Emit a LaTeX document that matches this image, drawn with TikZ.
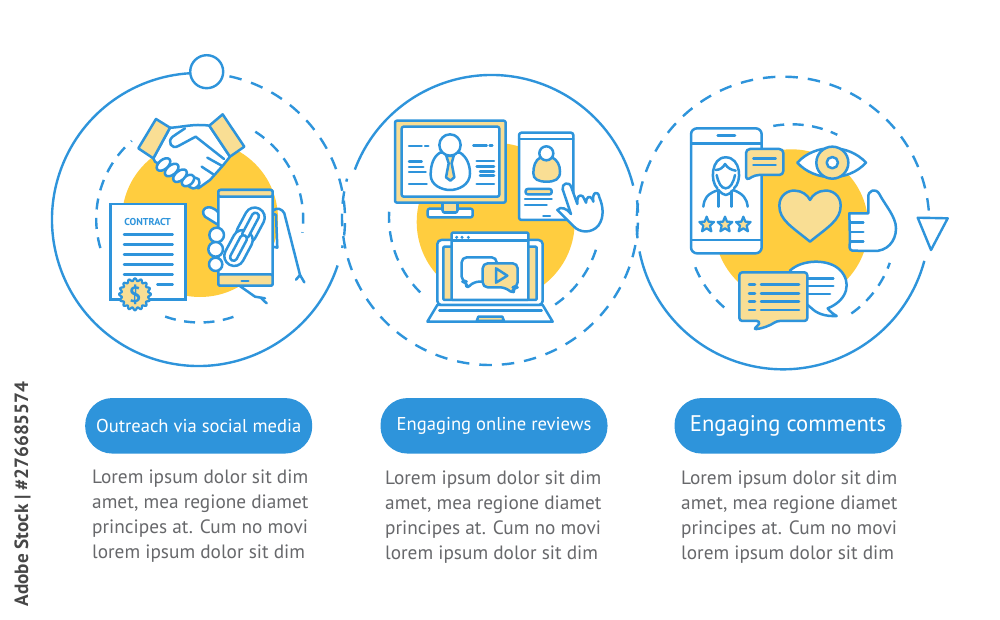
\documentclass[tikz,border=0pt]{standalone}
\usepackage{fontspec}
\setmainfont{PT Sans}
\definecolor{bl}{HTML}{2E94DB}
\definecolor{yl}{HTML}{FFCD3F}
\definecolor{ly}{HTML}{F9DE94}
\definecolor{tg}{HTML}{67686B}
\tikzset{
  ln/.style={draw=bl,line width=2.5pt,line join=round,line cap=round},
  wh/.style={ln,fill=white},
  lt/.style={ln,fill=ly},
  ring/.style={draw=bl,line width=2.4pt},
  dsh/.style={draw=bl,line width=2.4pt,dash pattern=on 12.5pt off 10pt},
  dsi/.style={draw=bl,line width=2.4pt,dash pattern=on 11pt off 8.5pt},
  pill/.style={fill=bl,rounded corners=27pt,minimum width=227pt,minimum height=55.5pt,inner sep=0pt,text=white,font=\fontsize{18.6}{20}\selectfont},
  body/.style={anchor=north west,text=tg,align=left,inner sep=0pt,font=\fontsize{19.3}{25}\selectfont}
}
\newcommand{\carc}[6][dsh]{\draw[#1] ([shift={(#2,#3)}]#5:#4pt) arc[start angle=#5,end angle=#6,radius=#4pt];}
\newcommand{\capsule}[5]{\begin{scope}[shift={(#1,#2)},rotate=#5]\draw[wh,rounded corners=#4pt-0.1pt] (-#3,-#4) rectangle (#3,#4);\end{scope}}
\newcommand{\finger}[5]{\begin{scope}[shift={(#1,#2)},rotate=#5]\draw[wh] (0,0) ellipse[x radius=#3pt,y radius=#4pt];\end{scope}}
\begin{document}
\begin{tikzpicture}[yscale=-1,x=1pt,y=1pt]
\useasboundingbox (0,0) rectangle (1000,620);
\fill[white] (0,0) rectangle (1000,620);
% ---------- yellow discs
\fill[yl] (200,219) circle[radius=78pt];
\fill[yl] (495.7,222) circle[radius=79pt];
\fill[yl] (791.3,226.3) circle[radius=77pt];
% ---------- circle 1
\carc[ring]{198.5}{219.5}{146.5}{18.3}{267}
\carc{198.5}{219.5}{146.5}{-77.8}{11.2}
\carc[dsi]{199.7}{219}{103.5}{163.7}{229}
\carc[dsi]{199.7}{219}{103.5}{-57.5}{7.6}
\carc[dsi]{199.7}{219}{103.5}{71}{114}
\draw[ring,fill=white] (206.7,71.7) circle[radius=16.5pt];
% handshake
\begin{scope}[shift={(130,105)},scale=1/3]
\draw[wh] (120,68) .. controls (150,68) and (190,55) .. (238,62) -- (300,155) -- (280,180) -- (240,225) -- (205,250) -- (190,240) -- (75,170) -- (70,160) -- cycle;
\draw[ln] (165,70) -- (128,95) .. controls (110,110) and (125,135) .. (145,123) -- (197,95) -- (282,162);
\draw[ln] (232,158) -- (275,182);
\draw[ln] (215,185) -- (250,208);
\draw[lt] (78,42) -- (120,68) -- (70,160) -- (25,130) -- cycle;
\draw[lt] (278,28) -- (343,125) -- (300,155) -- (238,62) -- cycle;
\end{scope}
\finger{194}{183}{6}{5}{-40}
\finger{188}{180.5}{7}{4.7}{-40}
\finger{180}{175.7}{8}{4.7}{-40}
\finger{171.7}{170}{8}{4.7}{-40}
\finger{163.5}{164.5}{8}{4.7}{-40}
% contract
\begin{scope}[shift={(100,195)},scale=1/3]
\draw[wh,line cap=butt,line join=miter] (32,27) rectangle (257,313);
\foreach \yy in {118,148,178,208,238} \draw[ln] (72,\yy) -- (218,\yy);
\draw[ln] (172,268) -- (218,268);
\node (contract) at (143,82) {\fontsize{10}{10}\selectfont\bfseries\textcolor{bl}{CONTRACT}};
\begin{scope}[shift={(105,298)}]
\draw[lt,line width=2.2pt] plot[domain=0:360,samples=121,smooth] (\x:{44+4*cos(16*\x)}) -- cycle;
\node (dollar) at (0,0) {\fontsize{22}{22}\selectfont\bfseries\textcolor{bl}{\$}};
\end{scope}
\end{scope}
% phone with chain
\begin{scope}[shift={(195,185)},scale=1/3]
\draw[ln] (233,78) .. controls (245,65) and (262,72) .. (268,85) -- (315,270);
\draw[ln] (303,284) -- (315,270) -- (328,292);
\draw[ln] (133,302) -- (180,335) -- (210,340);
\draw[ln] (197,338) -- (215,355);
\draw[ln] (233,85) -- (243,90) -- (247,188) -- (233,185);
\draw[wh] (70,120) -- (30,95) .. controls (12,75) and (40,50) .. (70,82) -- cycle;
\draw[wh,rounded corners=2pt] (70,15) rectangle (233,302);
\draw[lt,rounded corners=2pt] (70,15) rectangle (233,35);
\draw[lt,rounded corners=2pt] (70,268) rectangle (233,302);
\draw[ln] (140,288) -- (160,288);
\draw[wh] (65,150) circle[radius=22];
\draw[wh] (62,193) circle[radius=22];
\draw[wh] (62,238) circle[radius=20];
\end{scope}
\capsule{250.5}{225.5}{19}{10}{-62}
\capsule{238.5}{248}{19}{10}{-62}
\capsule{250.5}{225.5}{14}{3.5}{-62}
\capsule{238.5}{248}{14}{3.5}{-62}
% ---------- circle 2
\carc[ring]{491.5}{221}{146}{200.6}{346}
\carc{490}{217}{148}{-6.5}{195}
\carc[dsi]{495}{217.3}{106}{183}{132.4}
\carc[dsi]{495}{217.3}{106}{55.4}{14}
\begin{scope}[shift={(340,60)},scale=1/3]
% monitor
\draw[lt] (308,425) rectangle (352,458);
\draw[wh,rounded corners=2pt] (263,446) -- (308,446) -- (308,458) -- (352,458) -- (352,446) -- (398,446) -- (398,472) -- (263,472) -- cycle;
\draw[lt,rounded corners=2pt] (165,182) rectangle (497,428);
\draw[wh,rounded corners=2pt] (185,200) rectangle (478,410);
\draw[ln] (207,258) -- (245,258) (255,258) -- (265,258) (207,305) -- (245,305) (207,321) -- (250,321) (207,336) -- (257,336) (207,372) -- (260,372);
\draw[ln] (400,256) -- (440,256) (449,256) -- (457,256) (410,303) -- (462,303) (410,320) -- (462,320) (420,335) -- (462,335) (420,347) -- (462,347) (410,372) -- (462,372);
\draw[wh] (300,278) .. controls (280,290) and (272,315) .. (272,345) .. controls (272,375) and (305,390) .. (330,390) .. controls (355,390) and (390,375) .. (390,340) .. controls (390,315) and (380,290) .. (360,278) -- cycle;
\draw[lt] (319,288) -- (341,288) -- (335,310) -- (343,352) -- (331,362) -- (318,352) -- (326,310) -- cycle;
\draw[wh] (330,255) circle[radius=32];
% tablet
\draw[wh,rounded corners=2.5pt] (537,218) rectangle (700,480);
\draw[ln] (537,237) -- (700,237);
\draw[ln] (610,468) -- (630,468);
\draw[lt] (602,292) .. controls (585,300) and (580,320) .. (580,340) .. controls (580,358) and (595,365) .. (620,365) .. controls (645,365) and (660,358) .. (660,335) .. controls (660,315) and (652,300) .. (636,292) -- cycle;
\draw[wh] (619,280) circle[radius=21];
\draw[lt,rounded corners=2pt] (557,387) rectangle (635,403);
\draw[ln] (555,417) -- (635,417) (555,435) -- (620,435);
% hand
\draw[wh] (652,450) .. controls (662,438) and (680,445) .. (693,462) -- (668,388) .. controls (664,370) and (688,362) .. (694,382) -- (712,432) -- (712,420) .. controls (712,402) and (730,402) .. (733,418) -- (738,428) .. controls (738,410) and (750,405) .. (757,418) -- (760,425) .. controls (755,395) and (775,390) .. (778,412) .. controls (788,435) and (795,470) .. (775,497) .. controls (755,520) and (720,520) .. (700,498) -- cycle;
% laptop
\draw[wh] (292,735) -- (262,785) -- (638,785) -- (608,735) -- cycle;
\draw[wh,rounded corners=4pt] (292,735) -- (292,540) -- (608,540) -- (608,735) -- cycle;
\draw[lt,rounded corners=1pt] (310,560) rectangle (590,720);
\draw[wh,rounded corners=1pt] (335,518) rectangle (565,720);
\draw[ln] (335,542) -- (565,542);
\foreach \xx in {350,366,385} \fill[bl] (\xx,532) circle[radius=5];
\draw[ln] (298,752) -- (605,752);
\draw[lt] (410,783) -- (415,770) -- (487,770) -- (492,783) -- cycle;
\draw[wh,rounded corners=5pt] (378,688) -- (382,665) -- (365,665) -- (365,592) -- (470,592) -- (470,665) -- (402,665) -- cycle;
\draw[lt,rounded corners=5pt] (428,610) -- (533,610) -- (533,682) -- (518,682) -- (522,703) -- (495,682) -- (428,682) -- cycle;
\draw[ln] (468,625) -- (502,647) -- (468,668) -- cycle;
\end{scope}
% ---------- circle 3
\carc[ring]{783}{223}{146.3}{15}{168.8}
\carc{783}{223}{146.3}{174}{357}
\draw[wh,line width=2.4pt] (917.7,217.7) -- (947.7,218.3) -- (931,250) -- cycle;
\carc[dsi]{791.7}{228.3}{104}{259.8}{296}
\carc[dsi]{791.7}{228.3}{104}{158}{129}
\carc[dsi]{791.7}{228.3}{104}{55}{19.4}
\begin{scope}[shift={(635,60)},scale=1/3]
% eye
\draw[wh] (487,308) .. controls (540,250) and (640,250) .. (693,308) .. controls (640,366) and (540,366) .. cycle;
\draw[lt] (592,308) circle[radius=48];
\draw[wh] (592,308) circle[radius=17];
% heart
\draw[lt] (525,545) .. controls (470,500) and (433,480) .. (433,437) .. controls (433,405) and (460,390) .. (480,392) .. controls (500,392) and (518,405) .. (525,420) .. controls (532,405) and (550,392) .. (570,392) .. controls (590,390) and (617,405) .. (617,437) .. controls (617,480) and (580,500) .. (525,545) -- cycle;
% thumb
\draw[wh] (700,460) -- (700,412) .. controls (698,392) and (722,382) .. (733,402) .. controls (750,435) and (783,470) .. (783,505) .. controls (783,545) and (755,575) .. (715,573) -- (652,572) .. controls (642,570) and (643,560) .. (645,545) -- (643,460) -- cycle;
\draw[ln] (648,487) -- (685,487) (648,516) -- (685,516) (648,545) -- (685,545);
% back bubble
\draw[wh] (465,632) .. controls (500,598) and (580,595) .. (615,630) .. controls (650,665) and (640,720) .. (578,745) .. controls (585,755) and (595,762) .. (605,768) .. controls (570,770) and (545,760) .. (530,745) -- (500,720) -- cycle;
\draw[ln] (520,655) -- (595,655) (520,678) -- (595,678) (520,702) -- (585,702);
% front bubble
\draw[lt,rounded corners=3pt] (313,637) -- (517,637) -- (517,783) -- (425,783) .. controls (405,797) and (380,806) .. (355,808) .. controls (365,800) and (372,792) .. (375,783) -- (313,783) -- cycle;
\draw[ln] (342,673) -- (360,673) (378,673) -- (492,673) (342,700) -- (360,700) (378,700) -- (492,700) (342,725) -- (360,725) (378,725) -- (492,725) (342,750) -- (360,750) (378,750) -- (492,750);
% phone
\draw[wh,rounded corners=6pt] (168,205) rectangle (380,580);
\draw[ln] (170,250) -- (378,250) (170,540) -- (378,540);
\draw[ln] (248,227) -- (300,227);
\draw[ln] (247,385) .. controls (225,365) and (228,292) .. (272,292) .. controls (318,292) and (322,365) .. (297,385);
\draw[ln] (242,330) .. controls (255,330) and (265,322) .. (270,312) .. controls (278,325) and (290,330) .. (302,332);
\draw[ln] (245,345) .. controls (250,368) and (258,385) .. (272,385) .. controls (286,385) and (295,368) .. (300,345);
\draw[ln] (205,440) .. controls (208,415) and (215,402) .. (250,390) .. controls (270,410) and (275,410) .. (295,390) .. controls (325,402) and (335,415) .. (338,440);
\draw[ln] (250,390) -- (250,440) (290,393) -- (290,440);
\foreach \xx in {215,270,325} {
\draw[ln,fill=ly,line width=2.2pt] plot coordinates {(\xx,470) (\xx+6,485) (\xx+22,486) (\xx+10,497) (\xx+14,514) (\xx,505) (\xx-14,514) (\xx-10,497) (\xx-22,486) (\xx-6,485) (\xx,470)};
}
% small bubble
\draw[lt,rounded corners=4pt] (333,267) -- (445,267) -- (445,345) -- (360,345) -- (333,362) -- cycle;
\draw[ln] (355,295) -- (422,295) (355,315) -- (422,315);
\end{scope}
% ---------- labels
\node[pill] (p1) at (198.7,425.8) {Outreach via social media};
\node[pill] (p2) at (494,425.8) {Engaging online reviews};
\node[pill,font=\fontsize{22.6}{24}\selectfont] (p3) at (788,425.8) {Engaging comments};
\node[body] (b1) at (92,469.5) {Lorem ipsum dolor sit dim\\amet, mea regione diamet\\principes at. Cum no movi\\lorem ipsum dolor sit dim};
\node[body] (b2) at (385,470.5) {Lorem ipsum dolor sit dim\\amet, mea regione diamet\\principes at. Cum no movi\\lorem ipsum dolor sit dim};
\node[body] (b3) at (681,470.5) {Lorem ipsum dolor sit dim\\amet, mea regione diamet\\principes at. Cum no movi\\lorem ipsum dolor sit dim};
\node[rotate=90,text=black!72,font=\fontsize{19.2}{20}\selectfont\bfseries] (stock) at (22.5,494) {Adobe Stock | \#276685574};
\end{tikzpicture}
\end{document}
